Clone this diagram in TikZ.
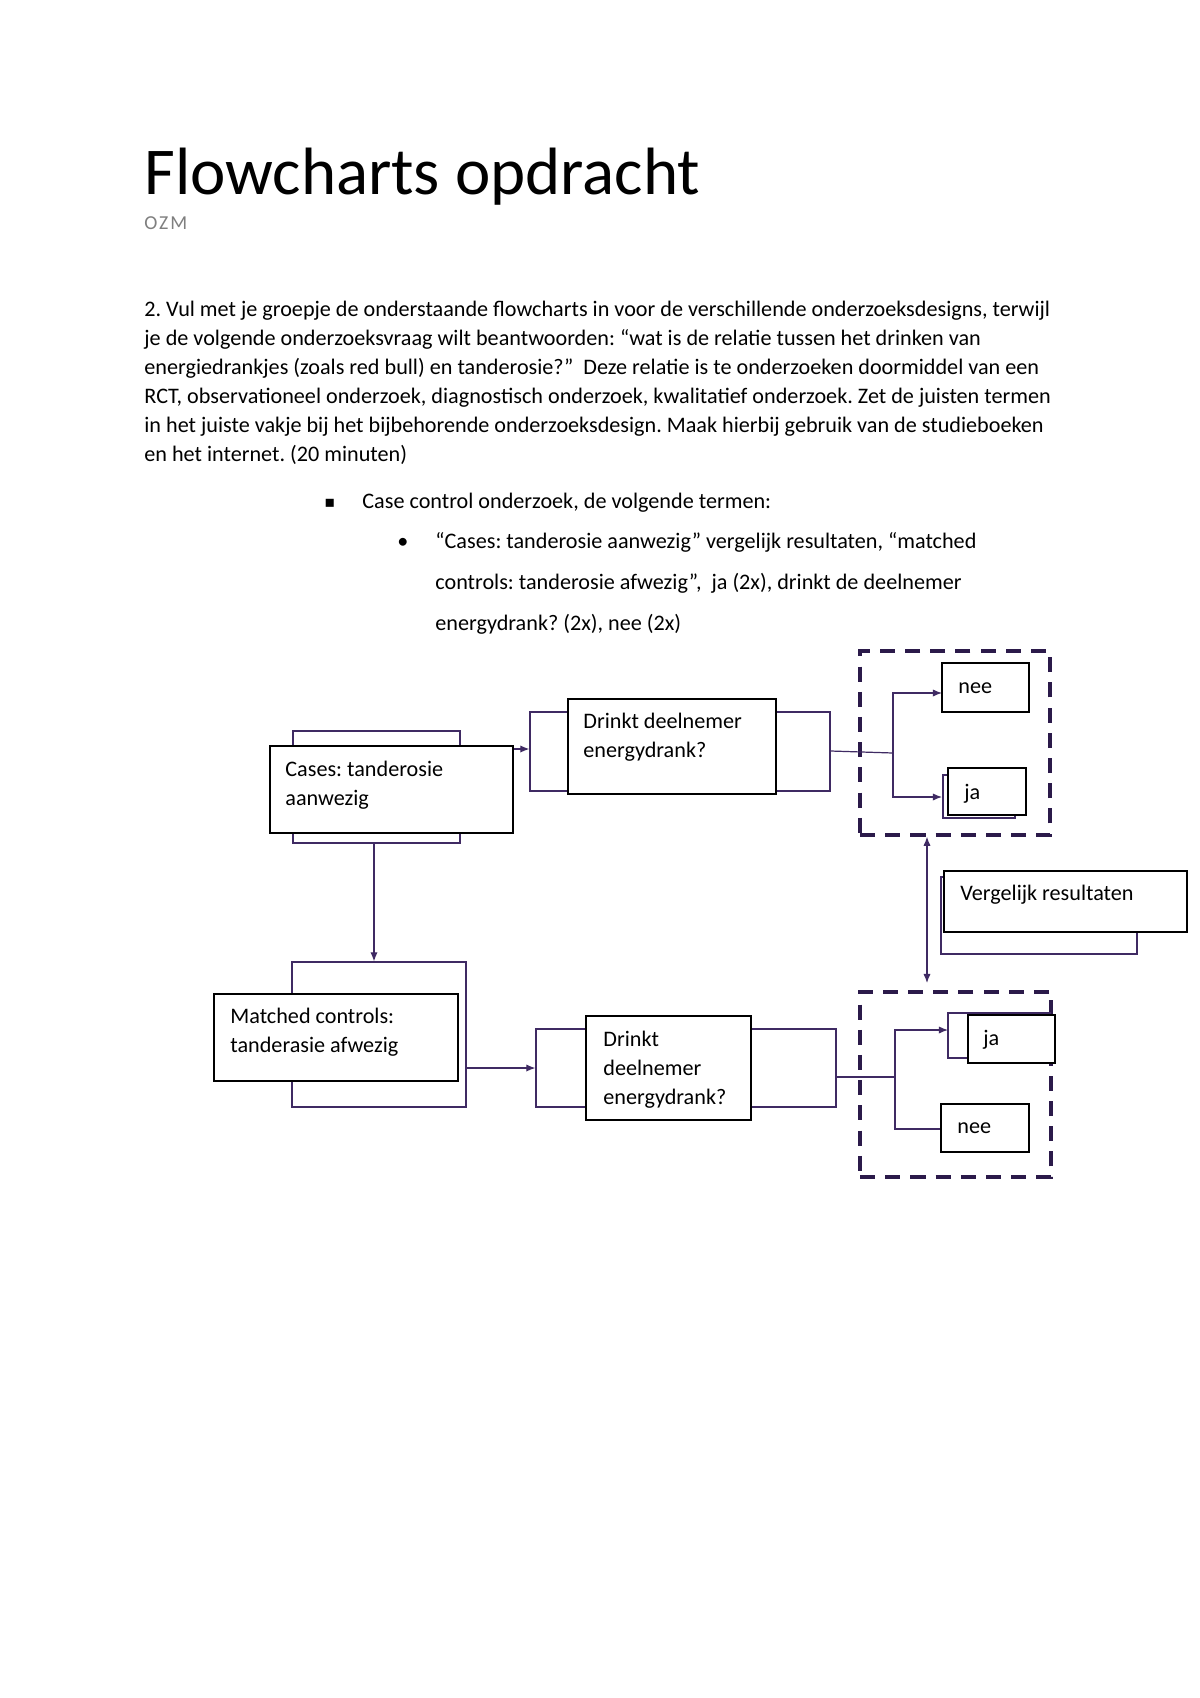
\documentclass[tikz,border=0pt]{standalone}
\usepackage{fontspec}
\setmainfont{Carlito}
\newfontfamily\dejavu{DejaVu Sans}
\usetikzlibrary{arrows.meta,fit}
\definecolor{thincol}{HTML}{3F2A63}
\definecolor{dashcol}{HTML}{2B1A4A}
\definecolor{subgray}{HTML}{7F7F7F}
\frenchspacing
\begin{document}
\begin{tikzpicture}[x=0.49607pt,y=-0.49607pt,
  thinbox/.style={draw=thincol, line width=0.6pt, inner sep=0pt},
  thickbox/.style={draw=black, line width=1.4pt, fill=white, inner sep=0pt},
  dashbox/.style={draw=dashcol, line width=1.7pt, dash pattern=on 7.5pt off 5pt, inner sep=0pt},
  conn/.style={draw=thincol, line width=0.6pt},
  arr/.style={conn, -{Latex[length=4.5pt,width=3.6pt]}},
  dblarr/.style={conn, {Latex[length=4.5pt,width=3.6pt]}-{Latex[length=4.5pt,width=3.6pt]}},
  txt/.style={anchor=base west, inner sep=0pt, font=\fontsize{11}{13}\selectfont},
  boxtxt/.style={anchor=base west, inner sep=0pt, font=\fontsize{11}{13}\selectfont}]
\useasboundingbox[fill=white] (0,0) rectangle (1200,1698);

% header
\node[anchor=base west, inner sep=0pt, font=\fontsize{33.2}{36}\selectfont] (title) at (144,194) {Flowcharts opdracht};
\node[anchor=base west, inner sep=0pt, text=subgray, font=\fontsize{9.8}{11}\selectfont\addfontfeature{LetterSpace=10}] (sub) at (144,229) {OZM};

\node[txt] (p1) at (144,316) {2. Vul met je groepje de onderstaande flowcharts in voor de verschillende onderzoeksdesigns, terwijl};
\node[txt] (p2) at (144,345) {je de volgende onderzoeksvraag wilt beantwoorden: “wat is de relatie tussen het drinken van};
\node[txt] (p3) at (144,374) {energiedrankjes (zoals red bull) en tanderosie?”\ \ Deze relatie is te onderzoeken doormiddel van een};
\node[txt] (p4) at (144,403) {RCT, observationeel onderzoek, diagnostisch onderzoek, kwalitatief onderzoek. Zet de juisten termen};
\node[txt] (p5) at (144,432) {in het juiste vakje bij het bijbehorende onderzoeksdesign. Maak hierbij gebruik van de studieboeken};
\node[txt] (p6) at (144,461) {en het internet. (20 minuten)};

\node[anchor=base west, inner sep=0pt, font=\dejavu\fontsize{8}{10}\selectfont] (b1) at (324,507) {▪};
\node[txt] (l1) at (362,508) {Case control onderzoek, de volgende termen:};
\node[anchor=base west, inner sep=0pt, font=\fontsize{11}{13}\selectfont] (b2) at (397,548) {•};
\node[txt] (l2) at (435,548) {“Cases: tanderosie aanwezig” vergelijk resultaten, “matched};
\node[txt] (l3) at (435,589) {controls: tanderosie afwezig”,\ \ ja (2x), drinkt de deelnemer};
\node[txt] (l4) at (435,630) {energydrank? (2x), nee (2x)};

% dashed groups
\node[dashbox, fit={(860,651)(1050,835)}] (g1) {};
\node[dashbox, fit={(860,992)(1051,1177)}] (g2) {};

% thin background boxes
\node[thinbox, fit={(293,731)(460,843)}] (casesb) {};
\node[thinbox, fit={(530,712)(830,791)}] (d1b) {};
\node[thinbox, fit={(943,775)(1015,818)}] (ja1b) {};
\node[thinbox, fit={(941,877)(1137,954)}] (vergb) {};
\node[thinbox, fit={(292,962)(466,1107)}] (matchb) {};
\node[thinbox, fit={(536,1029)(836,1107)}] (d2b) {};
\node[thinbox, fit={(948,1013)(1050,1058)}] (ja2b) {};

% connectors
\coordinate (s1) at (893,753);
\coordinate (s2) at (895,1077);
\draw[arr] (513,749) -- (d1b.west |- 0,749);
\draw[conn] (d1b.east |- 0,751) -- (s1);
\draw[arr] (s1) -- (s1 |- 0,693) -- (942,693);
\draw[arr] (s1) -- (s1 |- 0,797) -- (942,797);
\draw[arr] (casesb.south -| 374,0) -- (matchb.north -| 374,0);
\draw[arr] (matchb.east |- 0,1068) -- (d2b.west |- 0,1068);
\draw[conn] (d2b.east |- 0,1077) -- (s2);
\draw[arr] (s2) -- (s2 |- 0,1030) -- (948,1030);
\draw[conn] (s2) -- (s2 |- 0,1129) -- (941,1129);
\draw[dblarr] (g1.south -| 927,0) -- (927,983);

% main boxes
\node[thickbox, fit={(270,746)(513,833)}] (cases) {};
\node[thickbox, fit={(568,699)(776,794)}] (d1) {};
\node[thickbox, fit={(942,663)(1029,712)}] (nee1) {};
\node[thickbox, fit={(948,768)(1026,815)}] (ja1) {};
\node[thickbox, fit={(944,871)(1187,932)}] (verg) {};
\node[thickbox, fit={(214,994)(458,1081)}] (match) {};
\node[thickbox, fit={(586,1016)(751,1120)}] (d2) {};
\node[thickbox, fit={(968,1015)(1055,1063)}] (ja2) {};
\node[thickbox, fit={(941,1104)(1029,1152)}] (nee2) {};

% box texts
\node[boxtxt] (t1) at (285,776) {Cases: tanderosie};
\node[boxtxt] (t2) at (285,805) {aanwezig};
\node[boxtxt] (t3) at (583,728) {Drinkt deelnemer};
\node[boxtxt] (t4) at (583,757) {energydrank?};
\node[boxtxt] (t5) at (958,693) {nee};
\node[boxtxt] (t6) at (964,799) {ja};
\node[boxtxt] (t7) at (960,900) {Vergelijk resultaten};
\node[boxtxt] (t8) at (230,1023) {Matched controls:};
\node[boxtxt] (t9) at (230,1052) {tanderasie afwezig};
\node[boxtxt] (t10) at (603,1046) {Drinkt};
\node[boxtxt] (t11) at (603,1075) {deelnemer};
\node[boxtxt] (t12) at (603,1104) {energydrank?};
\node[boxtxt] (t13) at (983,1045) {ja};
\node[boxtxt] (t14) at (957,1133) {nee};
\end{tikzpicture}
\end{document}
